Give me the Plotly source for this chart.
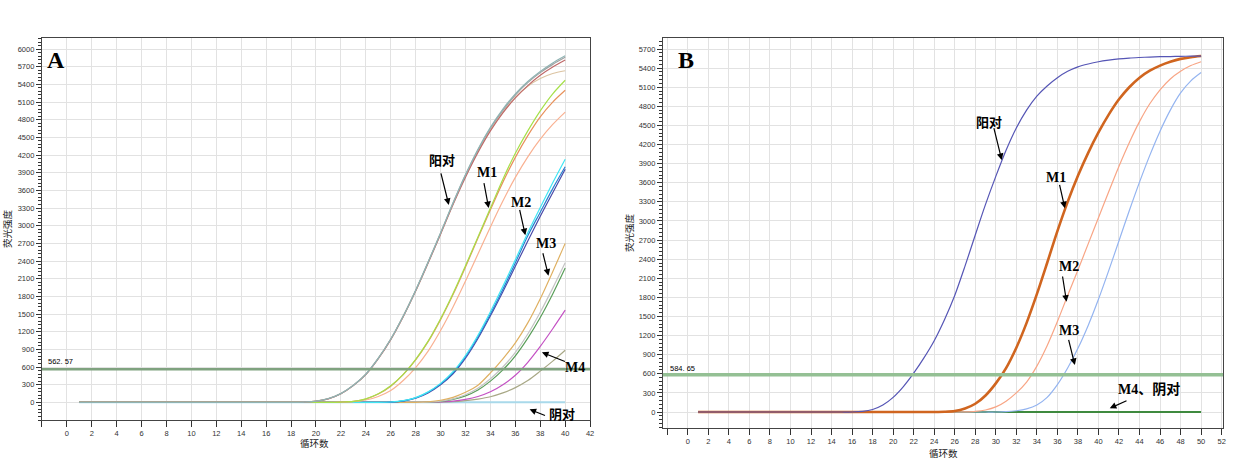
import plotly.graph_objects as go

# ---------------- data ----------------
cycles_A = list(range(1, 41))
cycles_B = list(range(1, 51))
threshold_A = 562.57
threshold_B = 584.65

xticks_A = list(range(-2, 43, 2))
xticks_B = list(range(-2, 53, 2))
yticks_A = list(range(0, 6001, 300))
yticks_B = list(range(0, 5701, 300))

# Panel A (cycles 1..40)
A_pos_teal = [0,0,0,0,0,0,0,0,0,0,0,0,0,0,0,0,0,0,5,20,65,150,290,480,750,1075,1465,1905,2385,2880,3390,3870,4300,4670,4980,5240,5450,5620,5765,5886]
A_pos_gray = [0,0,0,0,0,0,0,0,0,0,0,0,0,0,0,0,0,0,4,18,62,148,288,477,747,1072,1462,1900,2380,2873,3380,3860,4285,4655,4960,5220,5430,5600,5740,5860]
A_pos_red = [0,0,0,0,0,0,0,0,0,0,0,0,0,0,0,0,0,0,5,20,60,145,285,470,740,1065,1455,1890,2365,2855,3360,3825,4245,4610,4915,5170,5380,5555,5695,5813]
A_pos_tan = [0,0,0,0,0,0,0,0,0,0,0,0,0,0,0,0,0,0,5,20,62,148,288,475,745,1070,1460,1895,2375,2865,3370,3845,4265,4630,4930,5180,5370,5500,5585,5632]
A_M1_green = [0,0,0,0,0,0,0,0,0,0,0,0,0,0,0,0,0,0,0,0,0,5,18,60,145,280,475,730,1040,1420,1850,2320,2810,3300,3790,4230,4610,4950,5240,5470]
A_M1_orange = [0,0,0,0,0,0,0,0,0,0,0,0,0,0,0,0,0,0,0,0,0,5,17,57,140,275,470,720,1030,1405,1830,2300,2790,3270,3740,4160,4530,4850,5100,5300]
A_M1_salmon = [0,0,0,0,0,0,0,0,0,0,0,0,0,0,0,0,0,0,0,0,0,3,12,40,100,200,370,590,870,1220,1620,2060,2520,2980,3420,3820,4170,4470,4720,4930]
A_M2_cyan = [0,0,0,0,0,0,0,0,0,0,0,0,0,0,0,0,0,0,0,0,0,0,0,0,0,6,28,80,178,322,520,795,1140,1540,1970,2420,2880,3310,3730,4130]
A_M2_blue = [0,0,0,0,0,0,0,0,0,0,0,0,0,0,0,0,0,0,0,0,0,0,0,0,0,5,25,75,170,310,500,770,1110,1500,1920,2370,2830,3230,3630,4000]
A_M2_navy = [0,0,0,0,0,0,0,0,0,0,0,0,0,0,0,0,0,0,0,0,0,0,0,0,0,4,22,70,160,298,485,750,1085,1470,1880,2310,2740,3160,3560,3960]
A_M3_tan = [0,0,0,0,0,0,0,0,0,0,0,0,0,0,0,0,0,0,0,0,0,0,0,0,0,0,0,0,10,35,85,170,290,500,740,1010,1350,1760,2220,2700]
A_M3_gray = [0,0,0,0,0,0,0,0,0,0,0,0,0,0,0,0,0,0,0,0,0,0,0,0,0,0,0,0,5,20,60,130,240,400,600,850,1160,1530,1940,2370]
A_M3_green = [0,0,0,0,0,0,0,0,0,0,0,0,0,0,0,0,0,0,0,0,0,0,0,0,0,0,0,0,4,15,50,110,210,360,550,790,1090,1440,1840,2280]
A_purple = [0,0,0,0,0,0,0,0,0,0,0,0,0,0,0,0,0,0,0,0,0,0,0,0,0,0,0,0,2,8,20,50,100,180,300,460,680,950,1250,1565]
A_M4_olive = [0,0,0,0,0,0,0,0,0,0,0,0,0,0,0,0,0,0,0,0,0,0,0,0,0,0,0,0,2,5,10,28,55,95,160,250,370,530,700,885]
A_neg = [0,0,0,0,0,0,0,0,0,0,0,0,0,0,0,0,0,0,0,0,0,0,0,0,0,0,0,0,0,0,0,0,0,0,0,0,0,0,0,0]

# Panel B (cycles 1..50)
B_pos = [0,0,0,0,0,0,0,0,0,0,0,0,0,0,0,0,10,40,110,230,400,610,850,1120,1450,1830,2290,2780,3260,3700,4110,4460,4740,4960,5120,5250,5350,5420,5465,5500,5525,5545,5558,5567,5574,5579,5582,5585,5587,5588]
B_M1 = [0,0,0,0,0,0,0,0,0,0,0,0,0,0,0,0,0,0,0,0,0,0,0,0,3,15,55,130,260,450,690,1010,1400,1850,2340,2840,3300,3710,4070,4390,4670,4910,5100,5250,5360,5440,5500,5545,5572,5590]
B_M2 = [0,0,0,0,0,0,0,0,0,0,0,0,0,0,0,0,0,0,0,0,0,0,0,0,0,0,2,10,32,80,170,300,470,720,1040,1420,1830,2230,2640,3050,3460,3860,4230,4560,4840,5060,5230,5350,5440,5500]
B_M3 = [0,0,0,0,0,0,0,0,0,0,0,0,0,0,0,0,0,0,0,0,0,0,0,0,0,0,0,0,0,0,5,20,50,110,230,430,690,1000,1360,1770,2220,2690,3160,3610,4030,4410,4740,5010,5200,5330]
B_neg = [0,0,0,0,0,0,0,0,0,0,0,0,0,0,0,0,0,0,0,0,0,0,0,0,0,0,0,0,0,0,0,0,0,0,0,0,0,0,0,0,0,0,0,0,0,0,0,0,0,0]

# ---------------- figure ----------------
W, H = 1253, 461
fig = go.Figure()

def add(xs, ys, color, width, ax="x", ay="y"):
    fig.add_trace(go.Scatter(x=xs, y=ys, mode="lines", xaxis=ax, yaxis=ay,
                             line=dict(color=color, width=width, shape="spline", smoothing=0.8),
                             hoverinfo="skip"))

add(cycles_A, A_neg, "#a9d9ea", 2)
add(cycles_A, A_M4_olive, "#a8a886", 1.2)
add(cycles_A, A_purple, "#c452c4", 1.2)
add(cycles_A, A_M3_green, "#5a9e5a", 1.2)
add(cycles_A, A_M3_gray, "#c4c4c4", 1.2)
add(cycles_A, A_M3_tan, "#dfb062", 1.2)
add(cycles_A, A_M2_navy, "#4a4aa8", 1.2)
add(cycles_A, A_M2_blue, "#2a80d0", 1.2)
add(cycles_A, A_M2_cyan, "#3fe6f4", 1.2)
add(cycles_A, A_M1_salmon, "#f9b192", 1.2)
add(cycles_A, A_M1_orange, "#e8925c", 1.2)
add(cycles_A, A_M1_green, "#a6e04a", 1.2)
add(cycles_A, A_pos_tan, "#dcc4a2", 1.2)
add(cycles_A, A_pos_red, "#c06a6a", 1.2)
add(cycles_A, A_pos_gray, "#a0a0a0", 1.2)
add(cycles_A, A_pos_teal, "#8fb4b4", 1.2)

add(cycles_B, B_neg, "#3f8a3f", 1.8, "x2", "y2")
add(cycles_B, B_M3, "#94b4f0", 1.2, "x2", "y2")
add(cycles_B, B_M2, "#f8a585", 1.2, "x2", "y2")
add(cycles_B, B_M1, "#d0651f", 2.6, "x2", "y2")
add(cycles_B, B_pos, "#5555b5", 1.2, "x2", "y2")

tickfont = dict(family="Liberation Sans", size=7.5, color="#333")

def xaxis(domain, rng, ticks, anchor):
    return dict(domain=domain, range=rng, anchor=anchor, tickmode="array", tickvals=ticks,
                ticktext=["" if t < 0 else str(t) for t in ticks],
                ticks="outside", ticklen=6, tickcolor="#333", showline=True, linecolor="#444",
                linewidth=1, mirror=True, showgrid=True, gridcolor="#e2e2e2", gridwidth=1,
                zeroline=False, tickfont=tickfont, fixedrange=True)

def yaxis(domain, rng, ticks, anchor):
    return dict(domain=domain, range=rng, anchor=anchor, tickmode="array", tickvals=ticks,
                ticktext=[str(t) for t in ticks],
                ticks="outside", ticklen=5, tickcolor="#333", showline=True, linecolor="#444",
                linewidth=1, mirror=True, showgrid=True, gridcolor="#e2e2e2", gridwidth=1,
                zeroline=False, tickfont=tickfont, fixedrange=True,
                minor=dict(dtick=60, tick0=0, ticks="outside", ticklen=3, tickcolor="#333", showgrid=False))

fig.update_layout(
    width=W, height=H, margin=dict(l=0, r=0, t=0, b=0),
    paper_bgcolor="white", plot_bgcolor="white", showlegend=False,
    xaxis=xaxis([42 / W, 592 / W], [-2, 42], xticks_A, "y"),
    yaxis=yaxis([1 - 420 / H, 1 - 38 / H], [-300, 6188], yticks_A, "x"),
    xaxis2=xaxis([665 / W, 1227 / W], [-2.43, 52.14], xticks_B, "y2"),
    yaxis2=yaxis([1 - 428 / H, 1 - 38 / H], [-251, 5873], yticks_B, "x2"),
)

# threshold lines
fig.add_shape(type="line", xref="x domain", yref="y", x0=0, x1=1, y0=threshold_A, y1=threshold_A,
              line=dict(color="#7fa27f", width=2.5))
fig.add_shape(type="line", xref="x2 domain", yref="y2", x0=0, x1=1, y0=threshold_B, y1=threshold_B,
              line=dict(color="#94c094", width=3.5))

ann = []
def text(x, y, s, xr="x", yr="y", fam="Liberation Serif", size=14, **kw):
    ann.append(dict(x=x, y=y, xref=xr, yref=yr, text=s, showarrow=False, xanchor="center", yanchor="middle",
                    font=dict(family=fam, size=size, color="black"), **kw))

def arrow(tx, ty, hx, hy, xr="x", yr="y"):
    ann.append(dict(x=hx, y=hy, ax=tx, ay=ty, xref=xr, yref=yr, axref=xr, ayref=yr, text="",
                    showarrow=True, arrowhead=2, arrowsize=1.1, arrowwidth=1.2, arrowcolor="black"))

def ptext(px, py, s, fam, size, color="black", angle=0):
    ann.append(dict(x=px / W, y=1 - py / H, xref="paper", yref="paper", text=s, showarrow=False,
                    xanchor="center", yanchor="middle", textangle=angle,
                    font=dict(family=fam, size=size, color=color)))

cjk = "Noto Sans CJK SC"
# panel A
text(30.14, 4117, "<b>阳对</b>", fam=cjk, size=13)
arrow(30.0, 3916, 30.66, 3353)
text(33.70, 3911, "<b>M1</b>")
arrow(33.46, 3747, 33.86, 3300)
text(36.42, 3402, "<b>M2</b>")
arrow(36.32, 3295, 36.80, 2838)
text(38.42, 2705, "<b>M3</b>")
arrow(38.18, 2558, 38.66, 2151)
text(40.82, 599, "<b>M4</b>")
arrow(40.10, 684, 38.13, 849)
text(39.76, -190, "<b>阴对</b>", fam=cjk, size=13)
arrow(38.50, -233, 37.14, -119)
# panel B
text(29.37, 4569, "<b>阳对</b>", "x2", "y2", fam=cjk, size=13)
arrow(29.78, 4480, 30.58, 3957, "x2", "y2")
text(35.83, 3690, "<b>M1</b>", "x2", "y2")
arrow(36.18, 3591, 36.73, 3199, "x2", "y2")
text(37.09, 2285, "<b>M2</b>", "x2", "y2")
arrow(36.48, 2151, 36.89, 1732, "x2", "y2")
text(37.09, 1280, "<b>M3</b>", "x2", "y2")
arrow(37.06, 1157, 37.70, 738, "x2", "y2")
text(44.95, 361, "<b>M4、阴对</b>", "x2", "y2", fam="Liberation Serif, " + cjk, size=14)
arrow(42.88, 188, 41.10, 58, "x2", "y2")

# threshold labels
text(-0.5, 690, "562. 57", fam="Liberation Sans", size=7.5)
text(-0.53, 690, "584. 65", "x2", "y2", fam="Liberation Sans", size=7.5)

# panel letters
ptext(56, 60, "<b>A</b>", "Liberation Serif", 24)
ptext(688, 60, "<b>B</b>", "Liberation Serif", 24)

# axis titles
ptext(316, 443, "循环数", cjk, 9.5, "#222")
ptext(947, 453, "循环数", cjk, 9.5, "#222")
ptext(7, 228, "荧光强度", cjk, 9.5, "#222", -90)
ptext(631, 232, "荧光强度", cjk, 9.5, "#222", -90)

fig.update_layout(annotations=ann)
fig.write_html("out.html")
